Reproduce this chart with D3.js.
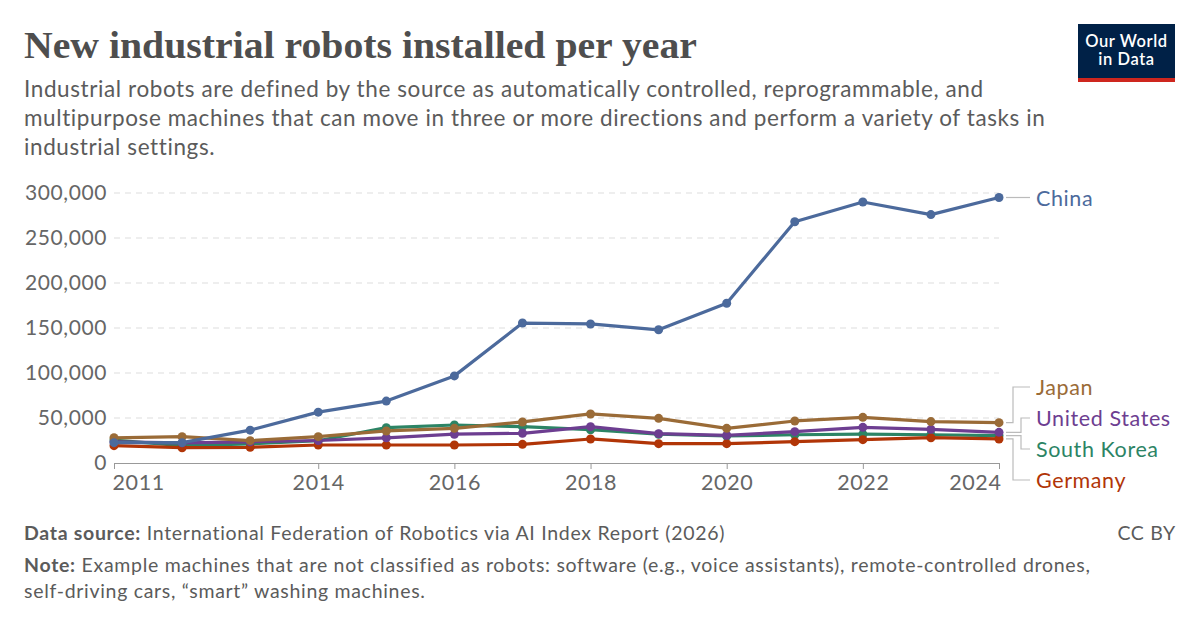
<!DOCTYPE html>
<html>
<head>
<meta charset="utf-8">
<script src="https://cdn.jsdelivr.net/npm/d3@7"></script>
<style>
  body { margin: 0; background: #fff; }
  svg { display: block; font-family: Lato, "Noto Sans", sans-serif; }
</style>
</head>
<body>
<div id="chart"></div>
<script>
const years = [2011, 2012, 2013, 2014, 2015, 2016, 2017, 2018, 2019, 2020, 2021, 2022, 2023, 2024];
const china = [22600, 22600, 36500, 56500, 68800, 96800, 155500, 154500, 148000, 177500, 268000, 290000, 276000, 295000];
const japan = [28000, 29300, 24800, 29300, 35600, 38500, 45600, 54500, 49600, 38500, 46700, 50700, 46000, 44800];
const unitedStates = [23500, 22400, 23500, 25000, 28000, 32000, 33000, 40400, 32600, 30700, 34800, 39600, 37400, 34100];
const southKorea = [25500, 19400, 21300, 24700, 39300, 42200, 40400, 37000, 32000, 30000, 31400, 32000, 31400, 30400];
const germany = [19300, 17000, 17400, 20000, 20000, 20000, 20700, 26700, 21500, 21500, 23700, 25900, 28100, 26700];
const yTicks = [0, 50000, 100000, 150000, 200000, 250000, 300000];
const xTicks = [2011, 2014, 2016, 2018, 2020, 2022, 2024];

const series = [
  { name: "South Korea", values: southKorea, color: "#2C8465", labelY: 449, elbowX: 1021 },
  { name: "Germany", values: germany, color: "#B13507", labelY: 480, elbowX: 1013 },
  { name: "United States", values: unitedStates, color: "#6D3E91", labelY: 418, elbowX: 1021 },
  { name: "Japan", values: japan, color: "#9A6B37", labelY: 387, elbowX: 1013 },
  { name: "China", values: china, color: "#4C6A9C", labelY: 198, elbowX: null }
];

const W = 1200, H = 627;
const svg = d3.select("#chart").append("svg").attr("width", W).attr("height", H);

const x = d3.scaleLinear().domain([2011, 2024]).range([114, 999]);
const y = d3.scaleLinear().domain([0, 300000]).range([463, 193]);

// title + subtitle
svg.append("text")
  .attr("x", 24).attr("y", 58)
  .attr("font-family", "'Liberation Serif', 'DejaVu Serif', serif")
  .attr("font-weight", 700).attr("font-size", 37)
  .attr("fill", "#4e4e4e")
  .attr("textLength", 673).attr("lengthAdjust", "spacingAndGlyphs")
  .text("New industrial robots installed per year");

const sub = [
  "Industrial robots are defined by the source as automatically controlled, reprogrammable, and",
  "multipurpose machines that can move in three or more directions and perform a variety of tasks in",
  "industrial settings."
];
svg.append("g").selectAll("text").data(sub).join("text")
  .attr("x", 24).attr("y", (d, i) => 97 + i * 29)
  .attr("font-size", 22.5).attr("letter-spacing", 0.6).attr("fill", "#5b5b5b")
  .text(d => d);

// logo
const logo = svg.append("g");
logo.append("rect").attr("x", 1078).attr("y", 24).attr("width", 97).attr("height", 54).attr("fill", "#002147");
logo.append("rect").attr("x", 1078).attr("y", 78).attr("width", 97).attr("height", 4).attr("fill", "#CE261E");
logo.selectAll("text").data(["Our World", "in Data"]).join("text")
  .attr("x", 1126.5).attr("y", (d, i) => 47 + i * 18)
  .attr("text-anchor", "middle").attr("fill", "#fff")
  .attr("font-size", 16.5).attr("font-weight", 600).attr("letter-spacing", 0.6)
  .text(d => d);

// grid + y axis
const gy = svg.append("g");
gy.selectAll("line").data(yTicks.filter(d => d > 0)).join("line")
  .attr("x1", 114).attr("x2", 999)
  .attr("y1", d => y(d)).attr("y2", d => y(d))
  .attr("stroke", "#dddddd").attr("stroke-dasharray", "6,5");
gy.selectAll("text").data(yTicks).join("text")
  .attr("x", 107).attr("y", d => y(d)).attr("dy", "0.35em")
  .attr("text-anchor", "end").attr("font-size", 21).attr("letter-spacing", 0.6).attr("fill", "#666")
  .text(d => d3.format(",")(d));

// x axis
const xAxis = d3.axisBottom(x).tickValues(xTicks).tickFormat(d3.format("d")).tickSize(6).tickSizeOuter(0);
const gx = svg.append("g").attr("transform", `translate(0,${y(0)})`).call(xAxis);
gx.select(".domain").attr("stroke", "#999");
gx.selectAll(".tick line").attr("stroke", "#999");
gx.selectAll(".tick text")
  .attr("font-size", 21.5).attr("letter-spacing", 0.6).attr("fill", "#666").attr("font-family", "Lato, sans-serif")
  .attr("y", 12)
  .attr("text-anchor", d => d === 2011 ? "start" : d === 2024 ? "end" : "middle")
  .attr("dx", d => d === 2011 ? -2 : d === 2024 ? 2 : 0);

// lines
const line = d3.line().x((d, i) => x(years[i])).y(d => y(d));
const gl = svg.append("g");
series.forEach(s => {
  gl.append("path").datum(s.values)
    .attr("d", line).attr("fill", "none")
    .attr("stroke", s.color).attr("stroke-width", 3.2)
    .attr("stroke-linejoin", "round");
  gl.append("g").selectAll("circle").data(s.values).join("circle")
    .attr("cx", (d, i) => x(years[i])).attr("cy", d => y(d))
    .attr("r", 4.5).attr("fill", s.color);
});

// labels with connectors
const gLab = svg.append("g");
series.forEach(s => {
  const endY = y(s.values[s.values.length - 1]);
  let pts;
  if (s.elbowX === null) {
    pts = [[1006, endY], [1030, endY]];
  } else {
    pts = [[1006, endY], [s.elbowX, endY], [s.elbowX, s.labelY], [1030, s.labelY]];
  }
  gLab.append("path").attr("d", d3.line()(pts))
    .attr("fill", "none").attr("stroke", "#bbb").attr("stroke-width", 1.2);
  gLab.append("text")
    .attr("x", 1036).attr("y", s.labelY).attr("dy", "0.35em")
    .attr("font-size", 21.5).attr("letter-spacing", 0.6).attr("fill", s.color)
    .text(s.name);
});

// footer
const foot = svg.append("g").attr("font-size", 19.5).attr("letter-spacing", 0.7).attr("fill", "#5b5b5b");
const t1 = foot.append("text").attr("x", 24).attr("y", 540);
t1.append("tspan").attr("font-weight", 700).text("Data source:");
t1.append("tspan").text(" International Federation of Robotics via AI Index Report (2026)");
foot.append("text").attr("x", 1176).attr("y", 540).attr("text-anchor", "end").text("CC BY");
const t2 = foot.append("text").attr("x", 24).attr("y", 572);
t2.append("tspan").attr("font-weight", 700).text("Note:");
t2.append("tspan").text(" Example machines that are not classified as robots: software (e.g., voice assistants), remote-controlled drones,");
foot.append("text").attr("x", 24).attr("y", 598).text("self-driving cars, \u201csmart\u201d washing machines.");
</script>
</body>
</html>
